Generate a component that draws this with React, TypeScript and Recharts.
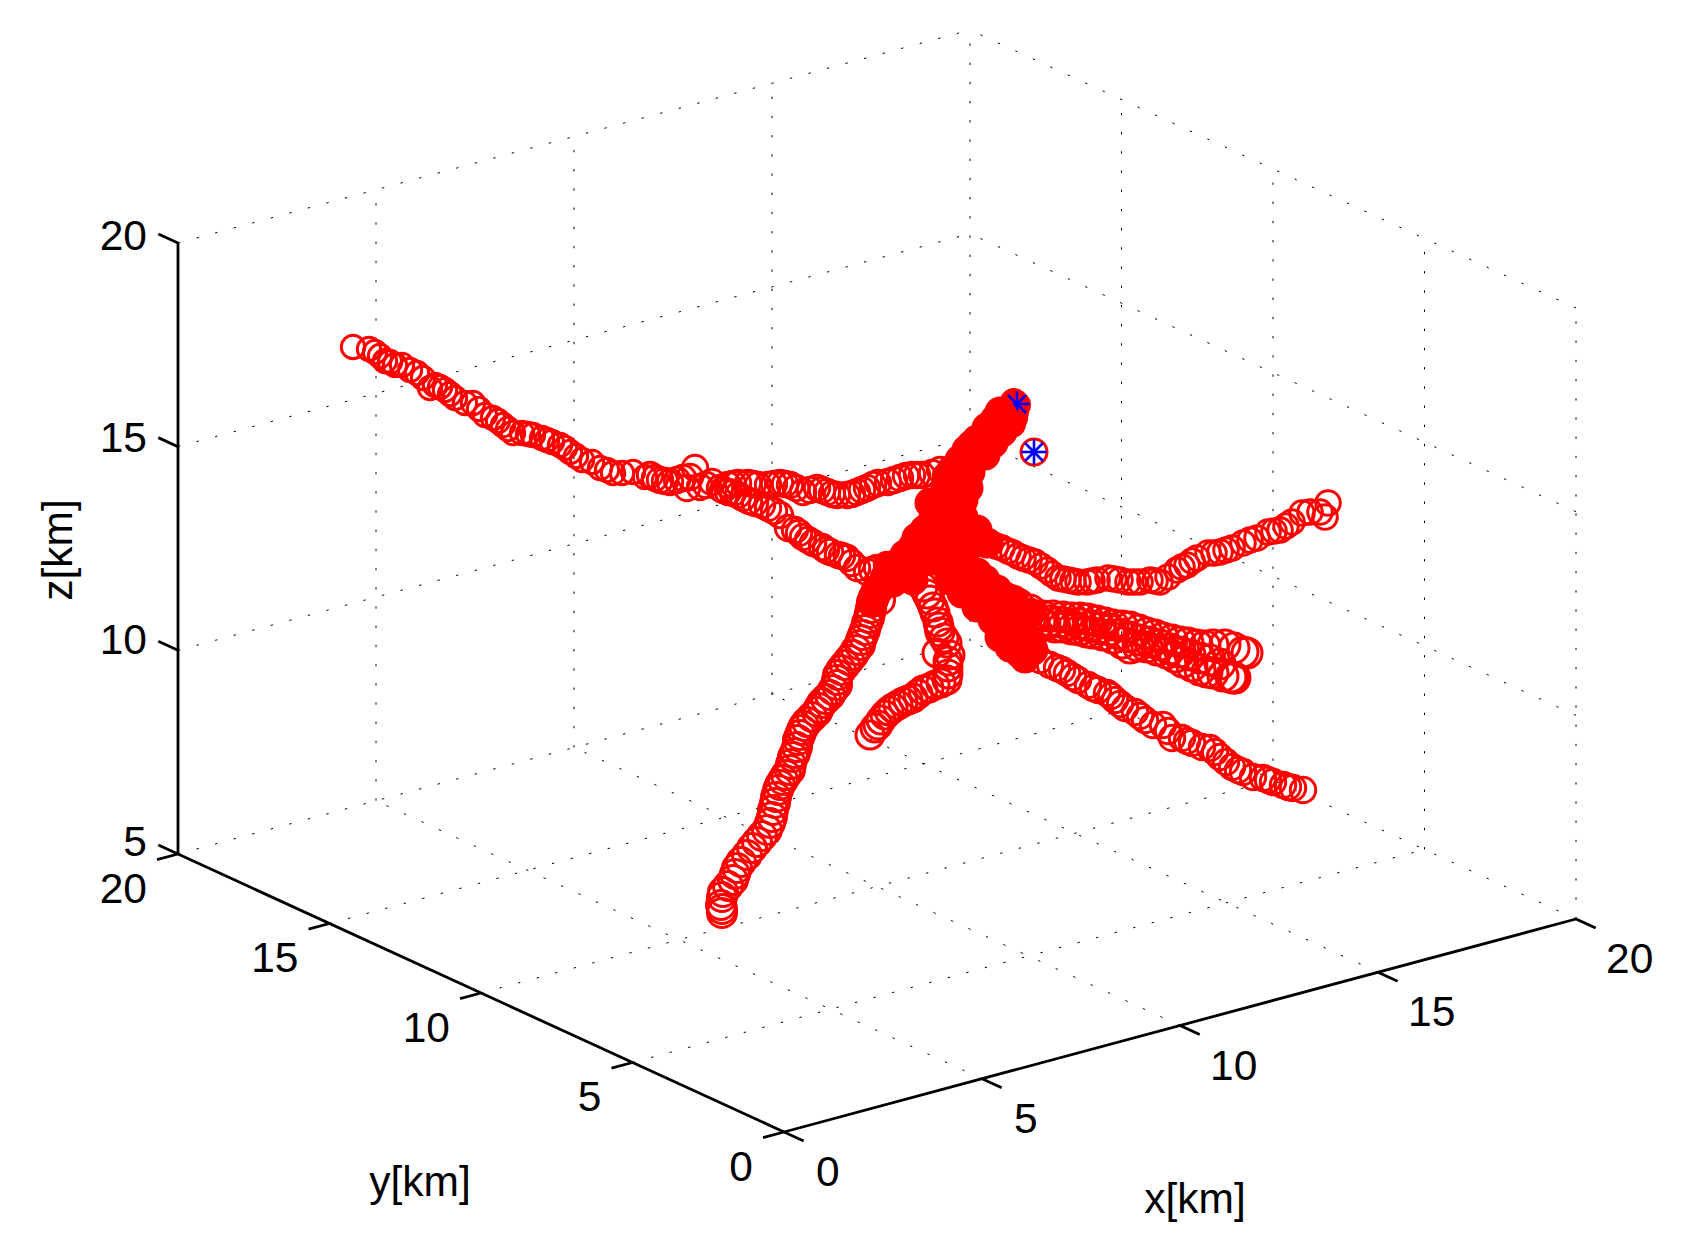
import React from "react";
import { ScatterChart, Scatter, XAxis, YAxis, ReferenceLine } from "recharts";

// Trace samples in the plane of the projected view.
type P = [number, number];
const traceUpperLeft: P[] = [[353,347],[369,349],[375,352],[380,356],[385,361],[390,362],[395,365],[402,365],[410,370],[417,373],[423,378],[430,388],[435,385],[440,387],[445,390],[450,394],[455,398],[465,403],[473,403],[479,409],[485,415],[493,418],[498,421],[503,425],[508,429],[513,433],[522,433],[528,434],[533,435],[542,438],[547,440],[552,442],[560,445],[565,448],[570,452],[576,456],[582,460],[592,462],[600,468],[607,470],[613,473],[622,473],[633,472],[645,477]];
const traceUpperMiddle: P[] = [[650,475],[655,478],[660,480],[665,481],[670,482],[677,480],[683,478],[690,477],[695,468],[687,488],[700,487],[706,485],[712,482],[720,488],[728,485],[733,484],[738,483],[748,483],[753,484],[758,485],[768,485],[774,484],[780,483],[785,484],[790,485],[796,488],[803,492],[810,490],[817,488],[822,490],[827,492],[832,494],[837,495],[847,495],[852,494],[857,492],[862,490],[867,488],[873,485],[878,483],[888,482],[894,480],[900,478],[906,476],[912,475],[917,475],[922,475],[932,473],[940,470]];
const traceMiddleLeft: P[] = [[723,490],[728,492],[733,493],[738,495],[743,498],[749,501],[755,503],[762,505],[768,508],[774,511],[780,515],[788,528],[795,530],[799,533],[803,537],[808,540],[813,543],[822,547],[826,550],[830,552],[838,555],[842,556],[847,558],[852,563],[857,568],[867,572],[872,570],[877,568],[887,565]];
const traceLowerLeft: P[] = [[880,600],[877,590],[874,597],[872,602],[871,608],[870,613],[869,618],[867,623],[865,630],[863,635],[861,640],[860,645],[856,650],[853,655],[849,660],[845,665],[841,670],[838,675],[837,680],[837,685],[833,690],[830,695],[826,699],[822,703],[819,708],[817,712],[812,717],[807,722],[804,726],[802,730],[800,735],[798,740],[797,747],[795,753],[793,757],[791,764],[790,770],[786,775],[783,780],[780,785],[778,790],[776,797],[775,803],[773,810],[772,817],[770,823],[767,830],[762,836],[757,842],[752,848],[747,855],[741,862],[737,868],[735,874],[733,880],[728,886],[723,892],[722,897],[721,905],[722,909],[722,913]];
const traceShortBranch: P[] = [[923,587],[927,594],[930,600],[933,607],[935,613],[938,622],[939,627],[940,632],[944,638],[947,643],[950,655],[937,653],[948,661],[948,667],[948,674],[947,680],[941,683],[935,685],[929,688],[923,690],[918,694],[913,698],[908,700],[903,702],[898,705],[893,708],[889,711],[885,715],[881,720],[878,725],[875,728],[870,735]];
const traceRightUpper: P[] = [[990,543],[996,546],[1002,548],[1008,551],[1013,553],[1018,556],[1023,558],[1029,560],[1035,562],[1041,566],[1047,570],[1052,574],[1058,578],[1063,579],[1068,580],[1073,581],[1078,582],[1087,582],[1092,581],[1097,580],[1108,578],[1114,579],[1120,580],[1128,582],[1134,582],[1140,582],[1150,580],[1155,581],[1160,582],[1168,577],[1177,570],[1182,567],[1187,565],[1192,561],[1197,558],[1208,553],[1214,553],[1220,552],[1226,550],[1232,548],[1243,543],[1250,540],[1257,538],[1268,532],[1274,531],[1280,530],[1286,526],[1292,522],[1302,513],[1310,512],[1320,512],[1325,517],[1328,503]];
const traceRightMidA: P[] = [[1018,604],[1030,610],[1043,616],[1053,616],[1063,617],[1072,618],[1080,618],[1088,619],[1097,621],[1105,623],[1113,625],[1122,626],[1130,627],[1139,630],[1147,633],[1155,635],[1163,638],[1172,640],[1180,642],[1188,643],[1197,645],[1205,646],[1213,645],[1225,645],[1234,648],[1243,652],[1247,653]];
const traceRightMidC: P[] = [[1030,620],[1040,622],[1050,621],[1060,622],[1070,624],[1080,624],[1090,626],[1100,628],[1110,630],[1120,634],[1130,637],[1140,640],[1150,642],[1160,645],[1170,649],[1180,652],[1190,655],[1200,658],[1210,660],[1220,664]];
const traceRightMidB: P[] = [[1035,630],[1045,625],[1055,627],[1063,627],[1072,629],[1080,630],[1087,632],[1093,633],[1103,635],[1113,638],[1122,643],[1130,648],[1138,646],[1147,647],[1157,650],[1167,653],[1175,657],[1183,662],[1192,666],[1200,670],[1207,672],[1213,673],[1223,676],[1233,678],[1235,678],[1231,677]];
const traceRightLower: P[] = [[1040,660],[1050,665],[1057,668],[1062,670],[1067,673],[1073,677],[1078,680],[1088,685],[1093,688],[1098,690],[1107,693],[1111,696],[1115,700],[1120,704],[1125,708],[1135,712],[1140,716],[1145,720],[1153,725],[1163,725],[1168,731],[1172,738],[1182,738],[1187,741],[1192,743],[1202,747],[1210,748],[1215,752],[1220,757],[1226,762],[1232,767],[1238,770],[1243,772],[1253,777],[1263,778],[1268,780],[1273,782],[1283,785],[1288,787],[1293,788],[1303,790]];
const coreTop: P[] = [[1014,402],[1017,405],[1015,412],[1014,418],[1012,424]];
const coreTrunk: P[] = [[1005,420],[1000,412],[995,420],[987,428],[1002,432],[977,440],[990,437],[993,443],[972,445],[967,450],[985,455],[977,457],[960,460],[952,470],[970,472],[962,477],[947,477],[946,487],[968,488],[957,493],[945,497],[963,500],[930,503],[950,510],[938,510],[963,517],[942,517],[932,523],[947,527],[955,525],[967,530],[925,530],[935,532],[977,530],[917,538],[930,540],[943,543],[957,543],[970,545],[987,543],[913,547],[925,550],[935,550],[905,555],[917,560],[927,560],[937,560],[950,558],[960,560],[895,565],[907,568],[967,567],[913,570],[950,573],[977,573],[985,580],[900,573],[890,567],[885,578],[913,580],[880,588],[893,582],[873,600],[962,593],[950,580],[970,585],[980,590],[997,590],[1005,597],[977,607],[988,610],[1000,610],[1013,600],[993,620],[1013,627],[1030,613],[1000,637],[1027,637],[1012,615],[1018,640],[1010,647],[1020,653],[1025,658],[1033,650]];
const markerStars: P[] = [[1017,404],[1034,452]];
const outlierRing: P[] = [[1034,452]];

// Axis ticks in km.
const xTicks = [0, 5, 10, 15, 20];
const yTicks = [0, 5, 10, 15, 20];
const zTicks = [5, 10, 15, 20];
const xTitle = "x[km]";
const yTitle = "y[km]";
const zTitle = "z[km]";

// Orthographic view of the box: km -> plane of the picture.
const project = (x: number, y: number, z: number): { px: number; py: number } => ({
  px: 784 + (x * 792) / 20 - (y * 606) / 20,
  py: 1132 - (x * 213) / 20 - (y * 278) / 20 - ((z - 5) * 611) / 15,
});

type Seg = [{ px: number; py: number }, { px: number; py: number }];
const grid: Seg[] = [];
for (const x of xTicks.slice(1)) {
  grid.push([project(x, 0, 5), project(x, 20, 5)]);
  grid.push([project(x, 20, 5), project(x, 20, 20)]);
}
for (const y of yTicks.slice(1)) grid.push([project(0, y, 5), project(20, y, 5)]);
grid.push([project(20, 0, 5), project(20, 0, 20)]);
for (const y of yTicks.slice(1, 4)) grid.push([project(20, y, 5), project(20, y, 20)]);
for (const z of zTicks.slice(1)) {
  grid.push([project(0, 20, z), project(20, 20, z)]);
  grid.push([project(20, 0, z), project(20, 20, z)]);
}

const axes: Seg[] = [
  [project(0, 0, 5), project(20, 0, 5)],
  [project(0, 0, 5), project(0, 20, 5)],
  [project(0, 20, 5), project(0, 20, 20)],
];
for (const x of xTicks) axes.push([project(x, 0, 5), project(x, -0.65, 5)]);
for (const y of yTicks) axes.push([project(0, y, 5), project(-0.53, y, 5)]);
for (const z of zTicks) axes.push([project(0, 20, z), project(0, 20.65, z)]);

const pts = (a: P[]) => a.map(([px, py]) => ({ px, py }));

const ring = (r: number) => (p: any) => (
  <circle cx={p.cx} cy={p.cy} r={r} fill="none" stroke="#ff0000" strokeWidth={3} />
);
const disk = (r: number) => (p: any) => <circle cx={p.cx} cy={p.cy} r={r} fill="#ff0000" />;
const star = (p: any) => {
  const a = 12.7;
  const d = a * 0.707;
  return (
    <g stroke="#0000ff" strokeWidth={2.6}>
      <line x1={p.cx - a} y1={p.cy} x2={p.cx + a} y2={p.cy} />
      <line x1={p.cx} y1={p.cy - a} x2={p.cx} y2={p.cy + a} />
      <line x1={p.cx - d} y1={p.cy - d} x2={p.cx + d} y2={p.cy + d} />
      <line x1={p.cx - d} y1={p.cy + d} x2={p.cx + d} y2={p.cy - d} />
    </g>
  );
};

const FONT = "'Liberation Sans', Arial, sans-serif";
const label = (anchor: string) => (p: any) => (
  <text x={p.cx} y={p.cy} textAnchor={anchor} fontFamily={FONT} fontSize={42.5} fill="#000">
    {p.payload.text}
  </text>
);
const zLabel = (p: any) => (
  <text
    x={p.cx}
    y={p.cy}
    textAnchor="middle"
    fontFamily={FONT}
    fontSize={42.5}
    fill="#000"
    transform={`rotate(-90 ${p.cx} ${p.cy})`}
  >
    {p.payload.text}
  </text>
);

const at = (c: { px: number; py: number }, dx: number, dy: number, text: string | number) => ({
  px: c.px + dx,
  py: c.py + dy,
  text: String(text),
});

const xLabels = xTicks.map((v) => at(project(v, 0, 5), v < 10 ? 32 : 30, 54, v));
const yLabels = yTicks.map((v) => at(project(0, v, 5), -31, 48.5, v));
const zLabels = zTicks.map((v) => at(project(0, 20, v), -31, 2 + (v - 5) * 0.35, v));
const titles = [
  { px: 1195, py: 1213, text: xTitle },
  { px: 420, py: 1196, text: yTitle },
];
const titleZ = [{ px: 72, py: 550, text: zTitle }];

export default function App() {
  return (
    <div style={{ position: "absolute", left: 0, top: 0, width: 1701, height: 1251, background: "#fff" }}>
      <ScatterChart width={1701} height={1251} margin={{ top: 0, right: 0, bottom: 0, left: 0 }}>
        <XAxis type="number" dataKey="px" domain={[0, 1701]} hide allowDataOverflow />
        <YAxis type="number" dataKey="py" domain={[0, 1251]} reversed hide allowDataOverflow />
        {grid.map((s, i) => (
          <ReferenceLine
            key={"g" + i}
            segment={[{ x: s[0].px, y: s[0].py }, { x: s[1].px, y: s[1].py }]}
            stroke="#000"
            strokeWidth={1}
            strokeDasharray="2.4 16.8"
            ifOverflow="visible"
          />
        ))}
        {axes.map((s, i) => (
          <ReferenceLine
            key={"a" + i}
            segment={[{ x: s[0].px, y: s[0].py }, { x: s[1].px, y: s[1].py }]}
            stroke="#000"
            strokeWidth={2.8}
            ifOverflow="visible"
          />
        ))}
        <Scatter data={pts(outlierRing)} shape={ring(13)} isAnimationActive={false} />
        <Scatter data={pts(coreTop)} shape={disk(14)} isAnimationActive={false} />
        <Scatter data={pts(markerStars)} shape={star} isAnimationActive={false} />
        <Scatter data={pts(traceUpperLeft)} shape={ring(11.7)} isAnimationActive={false} />
        <Scatter data={pts(traceUpperMiddle)} shape={ring(12.7)} isAnimationActive={false} />
        <Scatter data={pts(traceMiddleLeft)} shape={ring(12.7)} isAnimationActive={false} />
        <Scatter data={pts(traceLowerLeft)} shape={ring(14.5)} isAnimationActive={false} />
        <Scatter data={pts(traceShortBranch)} shape={ring(14)} isAnimationActive={false} />
        <Scatter data={pts(traceRightUpper)} shape={ring(12.3)} isAnimationActive={false} />
        <Scatter data={pts(traceRightMidA)} shape={ring(15)} isAnimationActive={false} />
        <Scatter data={pts(traceRightMidC)} shape={ring(15)} isAnimationActive={false} />
        <Scatter data={pts(traceRightMidB)} shape={ring(15)} isAnimationActive={false} />
        <Scatter data={pts(traceRightLower)} shape={ring(12.7)} isAnimationActive={false} />
        <Scatter data={pts(coreTrunk)} shape={disk(15.5)} isAnimationActive={false} />
        <Scatter data={xLabels} shape={label("start")} isAnimationActive={false} />
        <Scatter data={yLabels} shape={label("end")} isAnimationActive={false} />
        <Scatter data={zLabels} shape={label("end")} isAnimationActive={false} />
        <Scatter data={titles} shape={label("middle")} isAnimationActive={false} />
        <Scatter data={titleZ} shape={zLabel} isAnimationActive={false} />
      </ScatterChart>
    </div>
  );
}
